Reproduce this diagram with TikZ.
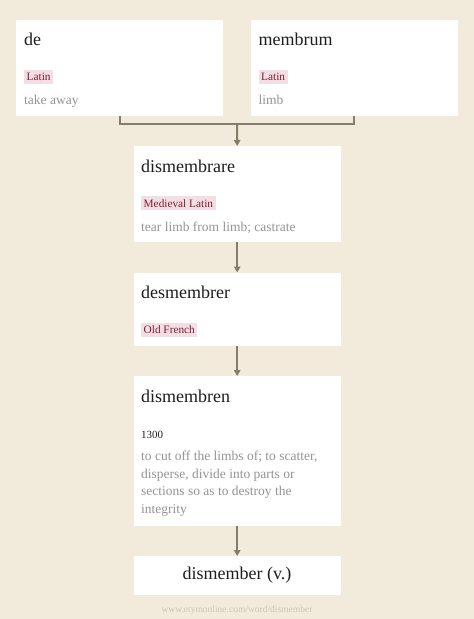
\documentclass[tikz,border=0pt]{standalone}
\usepackage{fontspec}
\setmainfont{Liberation Serif}
\usepackage{tikz}
\usetikzlibrary{arrows.meta}
\definecolor{paper}{HTML}{F2EBDB}
\definecolor{linkc}{HTML}{857C6A}
\definecolor{tagbg}{HTML}{F3DFE3}
\definecolor{tagfg}{HTML}{7A1D38}
\definecolor{glossc}{HTML}{949494}
\definecolor{wordc}{HTML}{1E1E1E}
\definecolor{urlc}{HTML}{CFC5B1}
\tikzset{
  card/.style={fill=white, anchor=north west, inner sep=0pt, minimum width=207pt},
  word/.style={anchor=base west, inner sep=0pt, text=wordc, font=\fontsize{18}{18}\selectfont},
  lang/.style={anchor=base west, fill=tagbg, text=tagfg, inner xsep=2.5pt, inner ysep=3pt, font=\fontsize{11.3}{12}\selectfont},
  gloss/.style={anchor=base west, inner sep=0pt, text=glossc, font=\fontsize{13.5}{17.6}\selectfont},
  link/.style={draw=linkc, line width=2pt},
}

\begin{document}
\begin{tikzpicture}[x=1pt, y=-1pt]
\path[fill=paper] (0,0) rectangle (474,619);
\path (16,20) node[card, minimum height=96pt] (de) {}
      (250.5,20) node[card, minimum height=96pt] (membrum) {}
      (133.5,146) node[card, minimum height=96pt] (dismembrare) {}
      (133.5,272.5) node[card, minimum height=73pt] (desmembrer) {}
      (133.5,376) node[card, minimum height=149.5pt] (dismembren) {}
      (133.5,556) node[card, minimum height=39pt] (dismember) {};
% texts in the cards
\path (24,45.5) node[word] (deW) {de}
      (24,80.5) node[lang] (deL) {Latin}
      (24,104) node[gloss] (deG) {take away}
      (258.5,45.5) node[word] (membrumW) {membrum}
      (258.5,80.5) node[lang] (membrumL) {Latin}
      (258.5,104) node[gloss] (membrumG) {limb}
      (141,172.5) node[word] (dismembrareW) {dismembrare}
      (141,207) node[lang] (dismembrareL) {Medieval Latin}
      (141,231) node[gloss] (dismembrareG) {tear limb from limb; castrate}
      (141,298.5) node[word] (desmembrerW) {desmembrer}
      (141,333.5) node[lang] (desmembrerL) {Old French}
      (141,402) node[word] (dismembrenW) {dismembren}
      (141,438) node[anchor=base west, inner sep=0pt, text=wordc, font=\fontsize{11}{12}\selectfont] (dismembrenD) {1300}
      (141,460.5) node[gloss] (dismembrenG1) {to cut off the limbs of; to scatter,}
      (141,478.1) node[gloss] (dismembrenG2) {disperse, divide into parts or}
      (141,495.7) node[gloss] (dismembrenG3) {sections so as to destroy the}
      (141,513.3) node[gloss] (dismembrenG4) {integrity}
      (237,579.5) node[word, anchor=base] (dismemberW) {dismember (v.)}
      (237,612) node[anchor=base, inner sep=0pt, text=urlc, font=\fontsize{9.5}{10}\selectfont] (url) {www.etymonline.com/word/dismember};
% connectors
\coordinate (join) at (237,123.5);
\draw[link] (de.south) |- (join) -| (membrum.south);
\begin{scope}[-{Triangle[length=6pt,width=6.5pt]}]
\draw[link] (join) -- (dismembrare.north);
\draw[link] (dismembrare.south) -- (desmembrer.north);
\draw[link] (desmembrer.south) -- (dismembren.north);
\draw[link] (dismembren.south) -- (dismember.north);
\end{scope}
\end{tikzpicture}
\end{document}
